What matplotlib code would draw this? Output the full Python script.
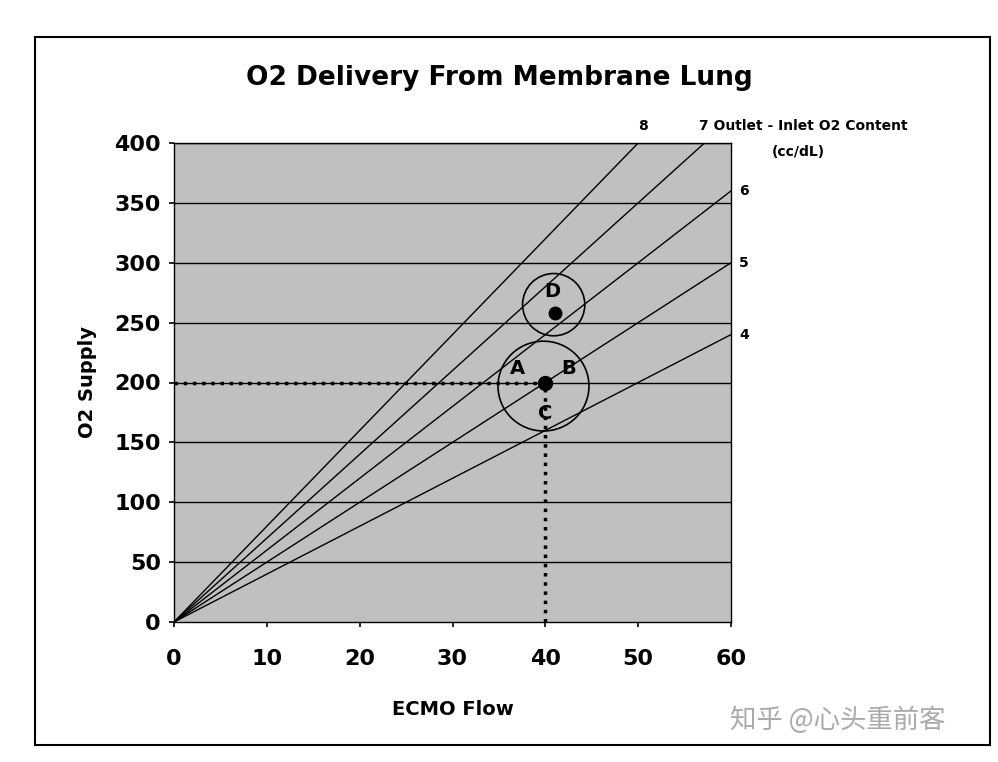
import matplotlib
matplotlib.use("Agg")
import matplotlib.pyplot as plt
from matplotlib.patches import Ellipse, Rectangle

slopes = [4, 5, 6, 7, 8]
x_ticks = [0, 10, 20, 30, 40, 50, 60]
y_ticks = [0, 50, 100, 150, 200, 250, 300, 350, 400]
pt_main = (40, 200)
pt_d = (41, 258)

plt.rcParams['font.family'] = ['DejaVu Sans', 'Noto Sans CJK SC']
fig = plt.figure(figsize=(9.98, 7.62), dpi=100)
fig.patches.append(Rectangle((35/998, 1-745/762), 955/998, 708/762, transform=fig.transFigure,
                             fill=False, ec='black', lw=1.5))
ax = fig.add_axes([174/998, 1-622/762, 557/998, 479/762])
ax.set_facecolor('#c0c0c0')
ax.set_xlim(0, 60); ax.set_ylim(0, 400)
for y in y_ticks[1:]:
    ax.axhline(y, color='black', lw=1)
for k in slopes:
    ax.plot([0, 60], [0, 60*k], color='black', lw=1, clip_on=True)
ax.plot([0, 40], [200, 200], 'k:', lw=2.5)
ax.plot([40, 40], [0, 200], 'k:', lw=2.5)
ax.plot(*pt_main, 'ko', ms=10)
ax.plot(*pt_d, 'ko', ms=9)
ax.add_patch(Ellipse((39.8, 197), 9.8, 75, fill=False, ec='black', lw=1.2))
ax.add_patch(Ellipse((40.9, 265), 6.7, 52, fill=False, ec='black', lw=1.2))
for t, (x, y) in {'A': (37, 212), 'B': (42.5, 212), 'C': (40, 174), 'D': (40.7, 276)}.items():
    ax.text(x, y, t, fontsize=14, fontweight='bold', ha='center', va='center')
ax.set_xticks(x_ticks); ax.set_yticks(y_ticks)
ax.tick_params(labelsize=16, width=1.2)
ax.tick_params(axis='x', pad=16)
ax.tick_params(axis='y', pad=6)
for l in ax.get_xticklabels() + ax.get_yticklabels():
    l.set_fontweight('bold')
for s in ax.spines.values():
    s.set_linewidth(1)
ax.set_xlabel('ECMO Flow', fontsize=14, fontweight='bold', labelpad=22)
ax.set_ylabel('O2 Supply', fontsize=14, fontweight='bold', labelpad=12)
fig.text(0.5, 1-78/762, 'O2 Delivery From Membrane Lung', ha='center', va='center',
         fontsize=19, fontweight='bold')
for k in [4, 5, 6]:
    ax.text(60.9, 60*k, str(k), fontsize=10, fontweight='bold', va='center')
ax.text(50.5, 408, '8', fontsize=10, fontweight='bold', va='bottom', ha='center')
ax.text(56.5, 408, '7 Outlet - Inlet O2 Content', fontsize=10, fontweight='bold', va='bottom')
ax.text(67.3, 387, '(cc/dL)', fontsize=10, fontweight='bold', va='bottom', ha='center', clip_on=False)
fig.text(838/998, 1-720/762, '知乎 @心头重前客', fontsize=19, color='#aaaaaa', ha='center', va='center',
         family=['Noto Sans CJK SC', 'DejaVu Sans'])
fig.savefig('out.png', dpi=100)
